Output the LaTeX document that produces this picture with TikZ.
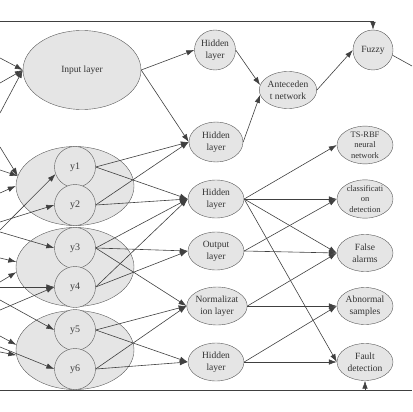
\documentclass[tikz,border=0pt]{standalone}
\usepackage{fontspec}
\setmainfont{Liberation Serif}
\usetikzlibrary{shapes.geometric,arrows.meta}

\begin{document}
\begin{tikzpicture}[x=1pt,y=-1pt,
  layer/.style={ellipse,draw=black!65,fill=black!10,inner sep=0pt,minimum width=56pt,minimum height=38pt,align=center,text=black!80,font=\fontsize{9.5}{12}\selectfont},
  small/.style={font=\fontsize{8.5}{10.5}\selectfont},
  unit/.style={circle,draw=black!65,fill=black!10,inner sep=0pt,minimum size=41pt,text=black!75,font=\fontsize{10}{12}\selectfont},
  grp/.style={ellipse,draw=black!65,fill=black!10,minimum width=118pt,minimum height=79pt},
  conn/.style={draw=black!75,line width=0.6pt,-{Latex[length=8pt,width=5.5pt]}},
  wire/.style={draw=black!75,line width=0.6pt}]
\clip (0,0) rectangle (412,412);

% groups of units on the left
\node[grp] (g1) at (75,186) {};
\node[grp] (g2) at (75,267) {};
\node[grp] (g3) at (75,350) {};
\foreach \n/\y in {1/167,2/205,3/248,4/287,5/330,6/369} % edit here for the units
\node[unit] (y\n) at (75,\y) {y\n};

\node[layer,minimum width=118pt,minimum height=79pt] (inp) at (82,70) {Input layer};

% middle column
\node[layer,minimum width=41pt,minimum height=40pt] (hA) at (215,50) {Hidden\\layer};
\node[layer,minimum width=54pt,minimum height=40pt] (hB) at (216,142) {Hidden\\layer};
\node[layer] (hC) at (216,199) {Hidden\\layer};
\node[layer] (outp) at (216,251) {Output\\layer};
\node[layer] (norm) at (217,306) {Normalizat\\ion layer};
\node[layer] (hD) at (216,362) {Hidden\\layer};
\node[layer,minimum height=37pt] (ante) at (288,90) {Anteceden\\t network};

% right column
\node[layer,minimum width=40pt,minimum height=40pt] (fuzzy) at (373,50) {Fuzzy};
\node[layer,small,minimum height=37pt] (tsrbf) at (365,145) {TS-RBF\\neural\\network};
\node[layer,small,minimum height=37pt] (clas) at (365,199) {classificati\\on\\detection};
\node[layer,minimum height=37pt] (false) at (365,253) {False\\alarms};
\node[layer,minimum height=37pt] (abn) at (365,306) {Abnormal\\samples};
\node[layer,minimum height=37pt] (fault) at (365,362) {Fault\\detection};

% free ends at the border
\coordinate (tl) at (0,21);
\coordinate (bl) at (0,390);
\coordinate (br) at (412,390);
\coordinate (fo) at (412,66);
\foreach \n/\y in {1/58,2/83,3/113,4/147,5/170,6/193,7/230,8/222,9/232,10/258,11/282,12/287,13/310,14/336,15/352,16/300,17/347}
\coordinate (l\n) at (0,\y);

\draw[conn] (tl) -| (fuzzy.north);
\draw[wire] (bl) -- (br);
\draw[conn] (fault.south |- bl) -- (fault.south);
\draw[wire] (fuzzy.-15) -- (fo);

% incoming from the left
\foreach \a/\b in {l1/inp.west,l2/inp.west,l3/inp.west,l4/g1.170,l5/g1.170,l6/g1.west,l7/y1.200,l8/y2.west,l9/y3.west,l10/g2.175,l11/g2.185,l12/y4.west,l13/y4.west,l14/g3.175,l15/g3.185,l16/y5.west,l17/y6.west}
\draw[conn] (\a) -- (\b);

% units to layers
\foreach \a/\b in {y1/hB,y1/hC,y2/hB,y2/hC,y3/hC,y3/outp,y3/norm,y4/hC,y4/outp,y5/norm,y5/hD,y6/norm,y6/hD}
\draw[conn] (\a.east) -- (\b.west);

\draw[conn] (inp.east) -- (hA.west);
\draw[conn] (inp.east) -- (hB.west);
\draw[conn] (hA.east) -- (ante.170);
\draw[conn] (hB.east) -- (ante.190);
\draw[conn] (ante.east) -- (fuzzy.west);

% layers to outputs
\foreach \a/\b in {hC/tsrbf,hC/clas,hC/false,hC/fault,outp/clas,outp/false,norm/false,norm/abn,hD/abn,hD/fault}
\draw[conn] (\a.east) -- (\b.west);
\end{tikzpicture}
\end{document}
